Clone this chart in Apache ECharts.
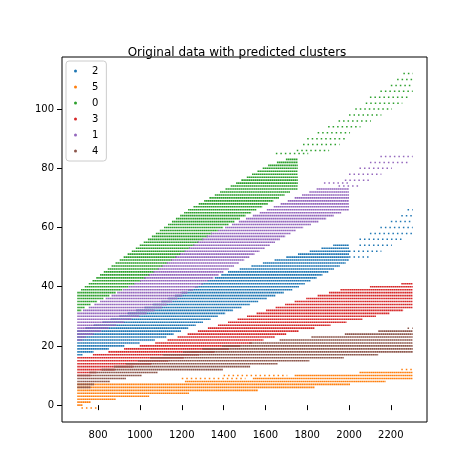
<!DOCTYPE html>
<html>
<head>
<meta charset="utf-8">
<script src="https://cdn.jsdelivr.net/npm/echarts@6/dist/echarts.min.js"></script>
<style>html,body{margin:0;padding:0;background:#fff}#chart{width:474px;height:474px}</style>
</head>
<body>
<div id="chart"></div>
<script>
// each row of points: [y, xStart, xEnd]
var rows2 = [[17,700,720],[18,700,773],[19,700,846],[20,700,920],[21,700,993],[22,700,1066],[23,700,1121],[24,700,1156],[25,700,1191],
  [26,740,1227],[27,780,1262],[28,821,1297],[29,861,1333],[30,901,1368],[31,942,1403],[32,982,1441],[33,1022,1482],[34,1063,1522],
  [35,1103,1562],[36,1135,1603],[37,1167,1643],[38,1199,1683],[39,1230,1724],[40,1262,1757],[41,1294,1784],[42,1326,1812],
  [43,1358,1840],[44,1389,1868],[45,1421,1896],[46,1477,1923],[47,1533,1951],[48,1588,1979],[49,1644,1995],[50,1700,1995],
  [51,1756,1995],[52,1812,1995],[53,1868,1995],[54,1924,1995]];
var sparse2 = [[50,2000,2100],[52,2000,2150],[54,2050,2200],[56,2050,2250],[58,2100,2300],[60,2150,2300],[62,2200,2300],[64,2250,2300],[66,2280,2300]];
var rows5 = [[0,700,720],[1,700,760],[2,700,880],[3,700,1040],[4,700,1230],[5,700,1560],[6,700,1830],[7,700,2000],[8,1215,2170],
  [9,1540,2300],[10,1740,2300],[11,2050,2300]];
var sparse5 = [[-1,720,800],[12,2250,2300],[9,1200,1500],[10,1400,1700]];
var rows0 = [[32,700,715],[33,700,730],[34,700,760],[35,700,790],[36,700,820],[37,700,850],[38,700,880],[39,718,910],[40,736,940],
  [41,755,970],[42,773,1000],[43,791,1021],[44,809,1042],[45,827,1063],[46,846,1085],[47,864,1106],[48,883,1127],[49,903,1149],
  [50,922,1170],[51,941,1191],[52,961,1212],[53,980,1234],[54,999,1255],[55,1018,1276],[56,1038,1298],[57,1057,1319],[58,1076,1340],
  [59,1095,1367],[60,1115,1393],[61,1134,1420],[62,1153,1447],[63,1172,1473],[64,1192,1500],[65,1211,1527],[66,1230,1553],
  [67,1256,1580],[68,1281,1607],[69,1307,1633],[70,1332,1660],[71,1358,1687],[72,1383,1713],[73,1409,1750],[74,1434,1750],
  [75,1460,1750],[76,1485,1750],[77,1511,1750],[78,1536,1750],[79,1562,1750],[80,1587,1750],[81,1613,1750],[82,1655,1750],[83,1698,1750]];
var sparse0 = [[86,1750,1900],[88,1780,1950],[90,1800,1980],[92,1850,2000],[94,1900,2050],[96,1950,2100],[98,2000,2150],[100,2030,2200],
  [102,2080,2250],[104,2100,2280],[106,2150,2300],[108,2200,2300],[110,2230,2300],[112,2260,2300],[85,1650,1800]];
var rows3 = [[10,700,760],[11,700,788],[12,700,875],[13,700,963],[14,700,1050],[15,700,1132],[16,700,1205],[17,775,1277],[18,849,1349],
  [19,924,1421],[20,999,1476],[21,1073,1531],[22,1132,1586],[23,1180,1641],[24,1228,1696],[25,1277,1755],[26,1325,1831],
  [27,1373,1907],[28,1421,1983],[29,1467,2059],[30,1512,2124],[31,1558,2189],[32,1603,2254],[33,1649,2300],[34,1694,2300],
  [35,1740,2300],[36,1795,2300],[37,1850,2300],[38,1904,2300],[39,1959,2300],[40,2100,2300],[41,2250,2300]];
var rows1 = [[22,700,720],[23,700,736],[24,700,773],[25,700,809],[26,700,845],[27,700,882],[28,700,918],[29,700,955],[30,700,991],
  [31,700,1027],[32,727,1064],[33,755,1100],[34,782,1125],[35,809,1149],[36,836,1174],[37,864,1198],[38,891,1223],[39,918,1248],
  [40,945,1272],[41,973,1297],[42,1000,1322],[43,1021,1346],[44,1042,1371],[45,1064,1395],[46,1085,1420],[47,1106,1445],
  [48,1128,1469],[49,1149,1494],[50,1170,1518],[51,1191,1543],[52,1213,1567],[53,1234,1592],[54,1255,1617],[55,1276,1641],
  [56,1298,1666],[57,1319,1690],[58,1340,1715],[59,1373,1740],[60,1407,1776],[61,1440,1813],[62,1473,1849],[63,1507,1886],
  [64,1540,1922],[65,1573,1959],[66,1607,1995],[67,1640,1995],[68,1673,1995],[69,1707,1995],[70,1740,1995],[71,1775,1995],
  [72,1810,1995],[73,1845,1995]];
var sparse1 = [[74,1950,2050],[76,1980,2100],[78,2000,2150],[80,2050,2200],[82,2100,2280],[84,2150,2300],[75,1880,1990]];
var rows4 = [[6,700,760],[7,700,776],[8,700,852],[9,700,928],[10,700,1004],[11,758,1080],[12,816,1392],[13,875,1522],[14,933,1653],
  [15,991,1806],[16,1050,1970],[17,1112,2135],[18,1206,2300],[19,1300,2300],[20,1393,2300],[21,1523,2300],[22,1668,2300],
  [23,1820,2300],[24,1980,2300],[25,2140,2300]];
var sparse4 = [[26,2280,2300]];
var labels = ['2', '5', '0', '3', '1', '4'];
var colors = ['#1f77b4', '#ff7f0e', '#2ca02c', '#d62728', '#9467bd', '#8c564b'];
var dense = [rows2, rows5, rows0, rows3, rows1, rows4];
var sparse = [sparse2, sparse5, sparse0, [], sparse1, sparse4];
var xTicks = [800, 1000, 1200, 1400, 1600, 1800, 2000, 2200];
var yTicks = [0, 20, 40, 60, 80, 100];

function rowRenderer(dash, width) {
  return function (params, api) {
    var a = api.coord([api.value(0), api.value(2)]);
    var b = api.coord([api.value(1), api.value(2)]);
    return {
      type: 'line',
      shape: { x1: a[0], y1: a[1], x2: b[0] + 1, y2: b[1] },
      style: { stroke: api.visual('color'), lineWidth: width, lineDash: dash }
    };
  };
}

var series = [];
labels.forEach(function (name, i) {
  function toData(r) { return r.map(function (d) { return [d[1], d[2], d[0]]; }); }
  series.push({
    name: name, type: 'custom', color: colors[i],
    renderItem: rowRenderer([1.6, 0.3], 1.6),
    encode: { x: [0, 1], y: 2 }, data: toData(dense[i])
  });
  series.push({
    name: name, type: 'custom', color: colors[i],
    renderItem: rowRenderer([1.5, 3], 1.5),
    encode: { x: [0, 1], y: 2 }, data: toData(sparse[i])
  });
});

var chart = echarts.init(document.getElementById('chart'));
chart.setOption({
  animation: false,
  title: { text: 'Original data with predicted clusters', left: 'center', top: 42,
    textStyle: { fontSize: 12, fontWeight: 'normal', color: '#000', fontFamily: 'DejaVu Sans' } },
  legend: {
    data: labels.map(function (n) { return { name: n, icon: 'circle' }; }),
    orient: 'vertical', left: 66, top: 61, itemWidth: 3, itemHeight: 3, itemGap: 6,
    padding: [5, 8, 5, 8], borderColor: '#ccc', borderWidth: 1, borderRadius: 3,
    textStyle: { fontSize: 10, color: '#000', fontFamily: 'DejaVu Sans', padding: [0, 0, 0, 10] }
  },
  grid: { left: 62, right: 47, top: 57, bottom: 52, show: true, borderColor: '#000', borderWidth: 1 },
  xAxis: {
    type: 'value', min: 627, max: 2373, splitLine: { show: false },
    axisLine: { show: false },
    axisTick: { customValues: xTicks, lineStyle: { color: '#000' } },
    axisLabel: { customValues: xTicks, fontSize: 10, color: '#000', fontFamily: 'DejaVu Sans',
      formatter: function (v) { return String(v); } }
  },
  yAxis: {
    type: 'value', min: -5.7, max: 117.6, splitLine: { show: false },
    axisLine: { show: false },
    axisTick: { show: true, customValues: yTicks, lineStyle: { color: '#000' } },
    axisLabel: { customValues: yTicks, fontSize: 10, color: '#000', fontFamily: 'DejaVu Sans',
      formatter: function (v) { return String(v); } }
  },
  series: series
});
</script>
</body>
</html>
